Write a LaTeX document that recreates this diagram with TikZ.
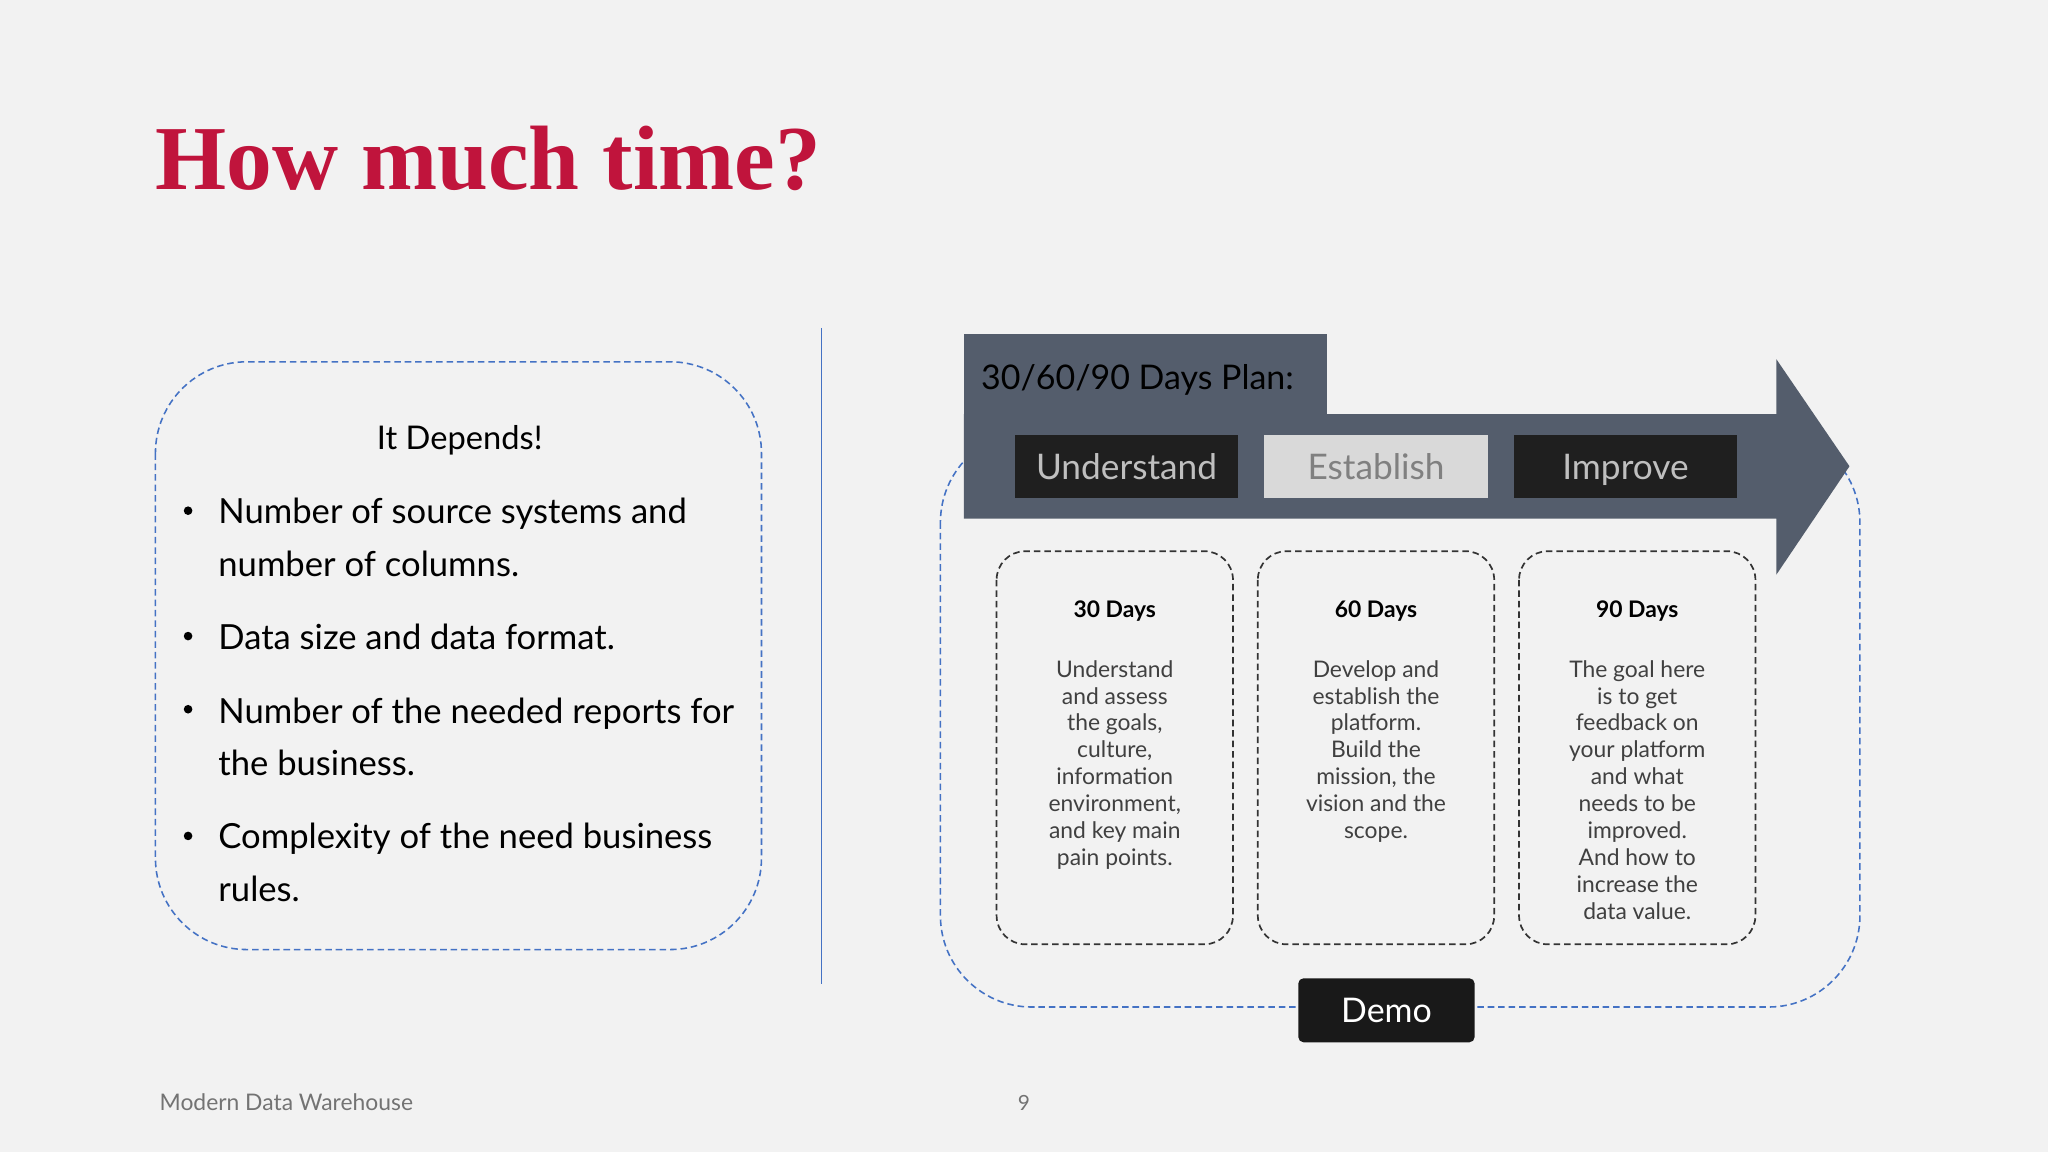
\documentclass[tikz,border=0pt]{standalone}
\usepackage{fontspec}
\setmainfont{Lato}
\newfontfamily\titlefont{Liberation Serif}
\begin{document}
\begin{tikzpicture}[x=1pt,y=-1pt,
  col/.style={draw=black!80,line width=1.3pt,dash pattern=on 5pt off 3pt,rounded corners=22pt},
  coltext/.style={align=center,font=\fontsize{17.5}{20.6}\selectfont\color{black!75},anchor=north},
  btn/.style={minimum width=171pt,minimum height=48pt,inner sep=0pt,text height=20pt,text depth=0pt,font=\fontsize{27}{30}\selectfont},
  bul/.style={anchor=base west,font=\fontsize{26.5}{30}\selectfont,inner sep=0pt}]
\definecolor{bg}{HTML}{F2F2F2}
\definecolor{arr}{HTML}{545D6C}
\definecolor{ttl}{HTML}{C0143C}
\definecolor{bl}{HTML}{4472C4}
\fill[bg] (0,0) rectangle (1568,882);
\useasboundingbox (0,0) rectangle (1568,882);
\node[anchor=base west,inner sep=0pt,text=ttl,font=\titlefont\bfseries\fontsize{70}{80}\selectfont] (title) at (119,145) {How much time?};
% left box
\draw[draw=bl,line width=1.2pt,dash pattern=on 5pt off 3pt,rounded corners=70pt] (119,277) rectangle (583,727);
\node[anchor=base,font=\fontsize{25}{30}\selectfont,inner sep=0pt] (dep) at (352,344) {It Depends!};
\foreach \y/\t in {401/Number of source systems and,441/number of columns.,497/Data size and data format.,554/Number of the needed reports for,594/the business.,650/Complexity of the need business,690/rules.}
  \node[bul] at (167,\y) {\t};
\foreach \y in {391,487,543,640} \fill (144,\y) circle (3.3pt);
\draw[bl,line width=1pt] (629,251) -- (629,753);
% outer dashed
\draw[draw=bl,line width=1.2pt,dash pattern=on 5pt off 3pt,rounded corners=70pt] (720,330) rectangle (1424,771);
% arrow
\fill[arr] (738,317) -- (1360,317) -- (1360,275) -- (1416,357) -- (1360,440) -- (1360,397) -- (738,397) -- cycle;
\fill[arr] (738,256) rectangle (1016,317);
\node[anchor=base west,font=\fontsize{26}{30}\selectfont,inner sep=0pt] (plan) at (751,298) {30/60/90 Days Plan:};
\node[btn,fill=black!88,text=black!25] (u) at (862.5,357) {Understand};
\node[btn,fill=black!15,text=black!50] (e) at (1053.5,357) {Establish};
\node[btn,fill=black!88,text=black!25] (i) at (1244.5,357) {Improve};
% columns
\draw[col] (763,422) rectangle (944,723);
\draw[col] (963,422) rectangle (1144,723);
\draw[col] (1163,422) rectangle (1344,723);
\foreach \x/\d in {853.5/30,1053.5/60,1253.5/90}
  \node[anchor=base,inner sep=0pt,font=\bfseries\fontsize{17.5}{20}\selectfont] at (\x,473) {\d\ Days};
\node[coltext] (t1) at (853.5,502) {Understand\\and assess\\the goals,\\culture,\\information\\environment,\\and key main\\pain points.};
\node[coltext] (t2) at (1053.5,502) {Develop and\\establish the\\platform.\\Build the\\mission, the\\vision and the\\scope.};
\node[coltext] (t3) at (1253.5,502) {The goal here\\is to get\\feedback on\\your platform\\and what\\needs to be\\improved.\\And how to\\increase the\\data value.};
\node[fill=black!90,text=white,rounded corners=4pt,minimum width=135pt,minimum height=49pt,inner sep=0pt,font=\fontsize{26}{30}\selectfont] (demo) at (1061.5,773.5) {Demo};
\node[anchor=base west,inner sep=0pt,text=black!55,font=\fontsize{17.5}{20}\selectfont] (foot) at (122,850) {Modern Data Warehouse};
\node[anchor=base,inner sep=0pt,text=black!55,font=\fontsize{16}{20}\selectfont] (pg) at (784,850) {9};
\end{tikzpicture}
\end{document}
